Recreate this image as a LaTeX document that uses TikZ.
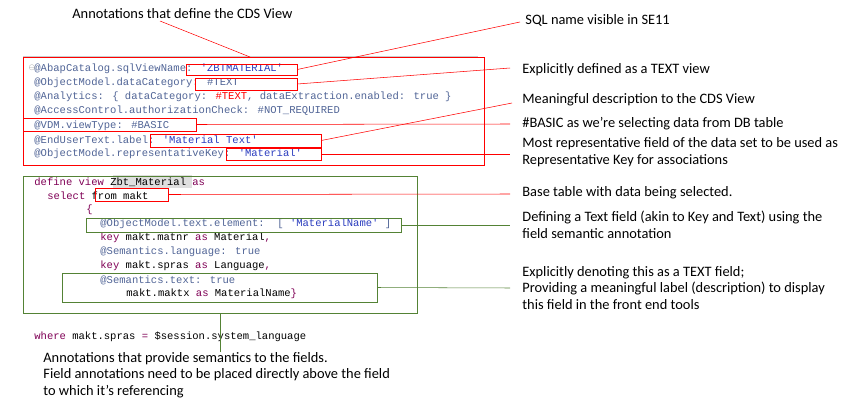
\documentclass[tikz,border=0pt]{standalone}
\usepackage{fontspec}
\setmainfont{Carlito}
\newfontfamily\codefont{Liberation Mono}
\usetikzlibrary{positioning}
\definecolor{annot}{RGB}{80,100,150}
\definecolor{kw}{RGB}{127,0,85}
\definecolor{strc}{RGB}{42,60,190}
\definecolor{boxgreen}{RGB}{84,130,53}
\begin{document}
\begin{tikzpicture}[x=0.75pt,y=-0.75pt,semithick]
  \tikzstyle{code}=[anchor=west,inner sep=0pt,font=\codefont\fontsize{7.9}{9}\selectfont,text=annot]
  \tikzstyle{note}=[anchor=west,inner sep=0pt,font=\fontsize{10.8}{12.4}\selectfont,align=left]
  \tikzstyle{redbox}=[draw=red,thin]
  \tikzstyle{greenbox}=[draw=boxgreen,thin]
  \tikzstyle{redlink}=[red,thin]
  \tikzstyle{greenlink}=[boxgreen,thin]
  \useasboundingbox (0,0) rectangle (845,410);

  % code
  \draw[gray!40,thick] (23,57) -- (478,57);
  \node[code] (l1) at (34,69) {@AbapCatalog.sqlViewName: {\color{strc}'ZBTMATERIAL'}};
  \node[code] (l2) at (34,83) {@ObjectModel.dataCategory: \#TEXT};
  \node[code] (l3) at (34,97) {@Analytics: \{ dataCategory: {\color{red}\#TEXT}, dataExtraction.enabled: true \}};
  \node[code] (l4) at (34,111) {@AccessControl.authorizationCheck: \#NOT\_REQUIRED};
  \node[code] (l5) at (34,126) {@VDM.viewType: \#BASIC};
  \node[code] (l6) at (34,140) {@EndUserText.label: {\color{strc}'Material Text'}};
  \node[code] (l7) at (34,154) {@ObjectModel.representativeKey: {\color{strc}'Material'}};
  \node[code,text=gray] at (28,68) {\tiny$\ominus$};

  \fill[gray!25] (113,175) rectangle (192,188);
  \node[code,text=kw] (d1) at (34,182) {define view {\color{black}Zbt\_Material} as};
  \node[code,text=kw] (d2) at (47,196) {select {\color{black}from makt}};
  \node[code,text=kw] (d3) at (86,210) {\{};
  \node[code] (d4) at (100,224) {@ObjectModel.text.element:~~[ {\color{strc}'MaterialName'} ]};
  \node[code,text=kw] (d5) at (100,238) {key {\color{black}makt.matnr} as {\color{black}Material},};
  \node[code] (d6) at (100,252) {@Semantics.language: true};
  \node[code,text=kw] (d7) at (100,266) {key {\color{black}makt.spras} as {\color{black}Language},};
  \node[code] (d8) at (100,280) {@Semantics.text: true};
  \node[code,text=kw] (d9) at (126,294) {{\color{black}makt.maktx} as {\color{black}MaterialName}\}};
  \node[code,text=kw] (d10) at (34,337) {where {\color{black}makt.spras} = {\color{black}\$session.system\_language}};

  % boxes
  \draw[redbox] (23,57) rectangle (484,165);
  \node[redbox,inner sep=0pt,minimum width=111*0.75pt,minimum height=11*0.75pt] (bsql) at (241.5,69.5) {};
  \node[redbox,inner sep=0pt,minimum width=102*0.75pt,minimum height=12*0.75pt] (bcat) at (246,84) {};
  \node[redbox,inner sep=0pt,minimum width=173*0.75pt,minimum height=13*0.75pt] (bvdm) at (109.5,124.5) {};
  \node[redbox,inner sep=0pt,minimum width=171*0.75pt,minimum height=13*0.75pt] (blabel) at (235.5,140.5) {};
  \node[redbox,inner sep=0pt,minimum width=95*0.75pt,minimum height=12*0.75pt] (bkey) at (273.5,154) {};
  \node[greenbox,inner sep=0pt,minimum width=394*0.75pt,minimum height=137*0.75pt] (bdef) at (220,244.5) {};
  \node[redbox,inner sep=0pt,minimum width=73*0.75pt,minimum height=13*0.75pt] (bfrom) at (131.5,194.5) {};
  \node[greenbox,inner sep=0pt,minimum width=315*0.75pt,minimum height=14*0.75pt] (belem) at (243.5,225) {};
  \node[greenbox,inner sep=0pt,minimum width=315*0.75pt,minimum height=29*0.75pt] (bsem) at (219.5,287.5) {};

  % notes
  \node[note] (nview) at (72,14) {Annotations that define the CDS View};
  \node[note] (nsql) at (525,20) {SQL name visible in SE11};
  \node[note] (ntext) at (522,70) {Explicitly defined as a TEXT view};
  \node[note] (ndesc) at (522,100) {Meaningful description to the CDS View};
  \node[note] (nbasic) at (522,124) {\#BASIC as we’re selecting data from DB table};
  \node[note] (nkey) at (522,152) {Most representative field of the data set to be used as\\Representative Key for associations};
  \node[note] (nbase) at (522,193) {Base table with data being selected.};
  \node[note] (nelem) at (522,225) {Defining a Text field (akin to Key and Text) using the\\field semantic annotation};
  \node[note] (nsem) at (522,288) {Explicitly denoting this as a TEXT field;\\Providing a meaningful label (description) to display\\this field in the front end tools};
  \node[note] (nfield) at (43,375) {Annotations that provide semantics to the fields.\\Field annotations need to be placed directly above the field\\to which it’s referencing};

  % links
  \coordinate (cview) at (250,57);
  \coordinate (csql) at (520,22);
  \coordinate (ctext) at (510,68);
  \coordinate (cdesc) at (512,103);
  \coordinate (cbasic) at (510,124);
  \coordinate (ckey) at (510,154);
  \coordinate (cbase) at (510,194);
  \coordinate (celem) at (510,225);
  \coordinate (csem) at (510,288);
  \coordinate (cfield) at (220,352);
  \draw[redlink] (160,21) -- (cview);
  \draw[redlink] (bsql.east) -- (csql);
  \draw[redlink] (bcat.east) -- (ctext);
  \draw[redlink] (blabel.east) -- (cdesc);
  \draw[redlink] (bvdm.east) -- (cbasic);
  \draw[redlink] (bkey.east) -- (ckey);
  \draw[redlink] (bfrom.east) -- (cbase);
  \draw[greenlink] (belem.east) -- (celem);
  \draw[greenlink] (bsem.east) -- (csem);
  \draw[greenlink] (bdef.south) -- (cfield);
\end{tikzpicture}
\end{document}
